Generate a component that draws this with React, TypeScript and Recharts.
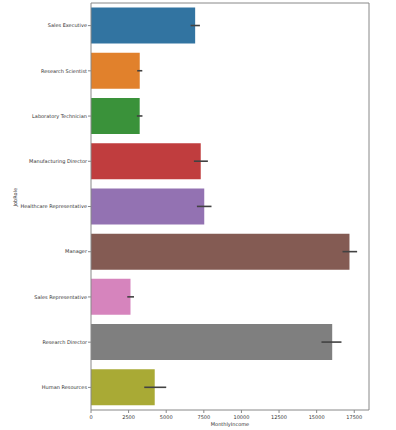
import { BarChart, Bar, XAxis, YAxis, Cell, ErrorBar } from 'recharts'

const roles = [
  'Sales Executive',
  'Research Scientist',
  'Laboratory Technician',
  'Manufacturing Director',
  'Healthcare Representative',
  'Manager',
  'Sales Representative',
  'Research Director',
  'Human Resources',
]

const incomeMean = [6924, 3240, 3237, 7295, 7529, 17182, 2626, 16034, 4236]
const ciLow = [6620, 3070, 3050, 6840, 7040, 16720, 2410, 15320, 3540]
const ciHigh = [7240, 3410, 3420, 7770, 8010, 17690, 2860, 16650, 5000]

const xTicks = [0, 2500, 5000, 7500, 10000, 12500, 15000, 17500]

const COLORS = ['#3274a1', '#e1812c', '#3a923a', '#c03d3e', '#9372b2', '#845b53', '#d684bd', '#7f7f7f', '#a9aa35']

const data = roles.map((role, i) => ({
  role,
  income: incomeMean[i],
  err: [incomeMean[i] - ciLow[i], ciHigh[i] - incomeMean[i]],
}))

const font = 'DejaVu Sans'
const axisColor = '#888'
const textColor = '#333'

// plain single-line tick, recharts would wrap long role names otherwise
function RoleTick(props: any) {
  const { x, y, payload } = props
  return (
    <text x={x} y={y} dy="0.355em" textAnchor="end" fontSize={5} fill={textColor} fontFamily={font}>
      {payload.value}
    </text>
  )
}

export default function App() {
  return (
    <div style={{ position: 'absolute', left: 0, top: 0, width: 396, height: 430, background: '#fff' }}>
      <BarChart
        width={396}
        height={430}
        data={data}
        layout="vertical"
        margin={{ top: 2, right: 26, bottom: 0, left: 0 }}
        barCategoryGap="10%"
      >
        <XAxis
          type="number"
          dataKey="income"
          domain={[0, 18480]}
          ticks={xTicks}
          height={20}
          stroke={axisColor}
          tickSize={3}
          tick={{ fontSize: 5, fill: textColor, fontFamily: font }}
          label={{ value: 'MonthlyIncome', position: 'insideBottom', offset: 4, fontSize: 5, fill: textColor, fontFamily: font }}
        />
        <XAxis xAxisId="top" type="number" orientation="top" domain={[0, 18480]} height={1} tick={false} tickLine={false} stroke={axisColor} />
        <YAxis
          type="category"
          dataKey="role"
          width={91}
          stroke={axisColor}
          tickSize={3}
          tickMargin={1}
          tick={<RoleTick />}
          label={{ value: 'JobRole', angle: -90, position: 'insideLeft', offset: 15, fontSize: 5, fill: textColor, fontFamily: font }}
        />
        <YAxis yAxisId="right" type="category" dataKey="role" orientation="right" width={1} tick={false} tickLine={false} stroke={axisColor} />
        <Bar dataKey="income" isAnimationActive={false}>
          {data.map((d, i) => (
            <Cell key={`cell-${i}`} fill={COLORS[i % COLORS.length]} />
          ))}
          <ErrorBar dataKey="err" direction="x" width={0} stroke="#424242" strokeWidth={1.6} />
        </Bar>
      </BarChart>
    </div>
  )
}
